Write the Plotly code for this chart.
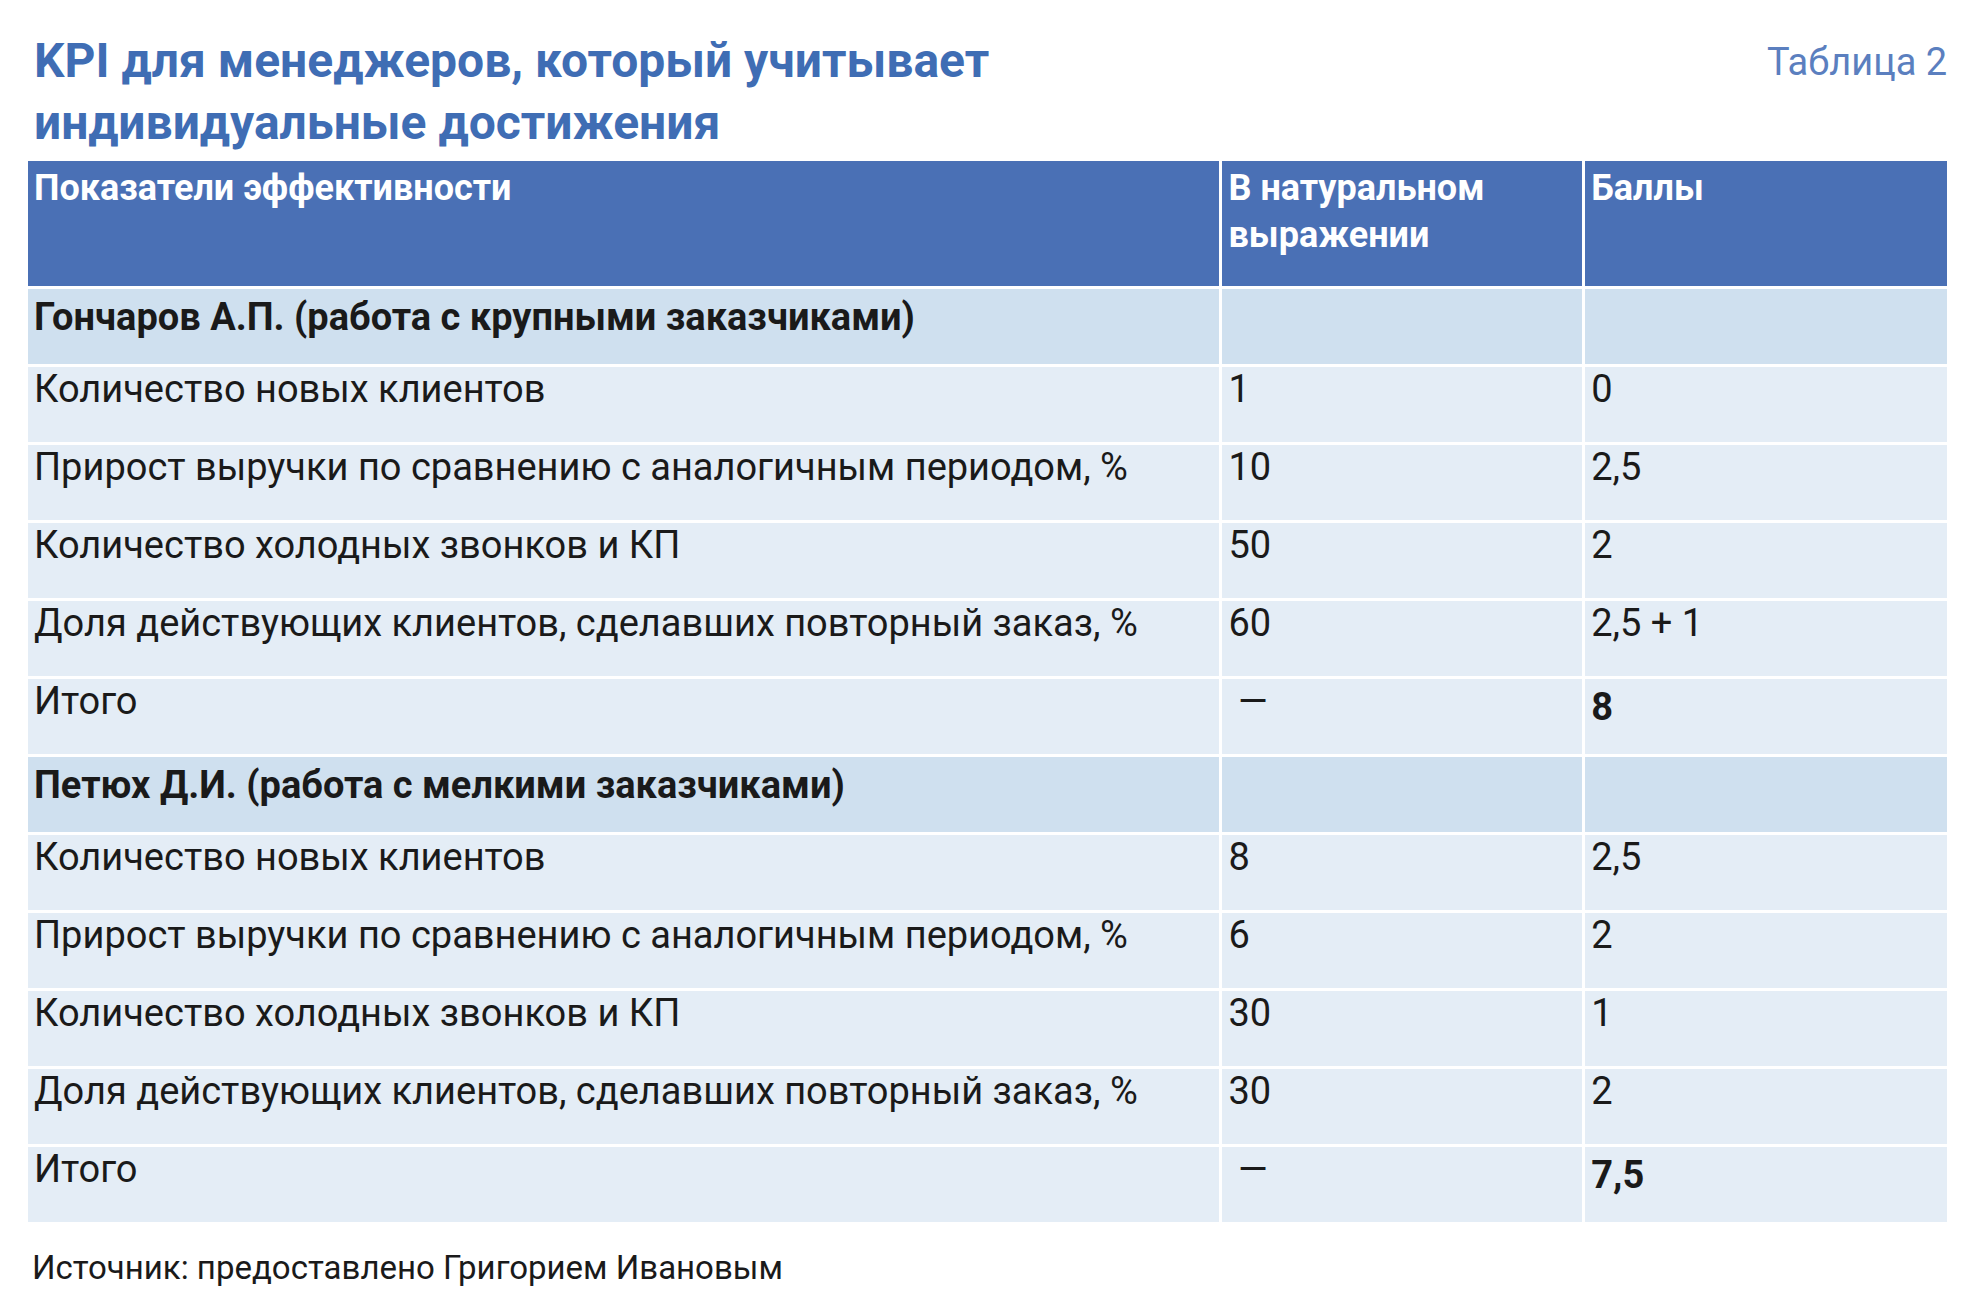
import plotly.graph_objects as go

title = "KPI для менеджеров, который учитывает<br>индивидуальные достижения"
label = "Таблица 2"
source = "Источник: предоставлено Григорием Ивановым"
headers = ["Показатели эффективности", "В натуральном<br>выражении", "Баллы"]
col1 = ["Гончаров А.П. (работа с крупными заказчиками)",
        "Количество новых клиентов",
        "Прирост выручки по сравнению с аналогичным периодом, %",
        "Количество холодных звонков и КП",
        "Доля действующих клиентов, сделавших повторный заказ, %",
        "Итого",
        "Петюх Д.И. (работа с мелкими заказчиками)",
        "Количество новых клиентов",
        "Прирост выручки по сравнению с аналогичным периодом, %",
        "Количество холодных звонков и КП",
        "Доля действующих клиентов, сделавших повторный заказ, %",
        "Итого"]
col2 = ["", "1", "10", "50", "60", " —", "", "8", "6", "30", "30", " —"]
col3 = ["", "0", "2,5", "2", "2,5 + 1", "<b>8</b>", "", "2,5", "2", "1", "2", "<b>7,5</b>"]
group_rows = [0, 6]

c1 = [f"<b>{t}</b>" if i in group_rows else t for i, t in enumerate(col1)]
fills = ["#cfe0ef" if i in group_rows else "#e4edf6" for i in range(len(col1))]

fig = go.Figure(go.Table(
    domain=dict(x=[18/1972, 1941/1972], y=[0.0, 1-151/1303]),
    columnwidth=[1192, 362, 365],
    header=dict(values=[f"<b>{h}</b>" for h in headers], height=128,
                fill_color="#4a70b5", line=dict(color="white", width=3),
                align="left", font=dict(family="Roboto", size=36, color="white")),
    cells=dict(values=[c1, col2, col3], height=78,
               fill_color=[fills, fills, fills], line=dict(color="white", width=3),
               align="left", font=dict(family="Roboto", size=38, color="#1a1a1a")),
))
fig.update_layout(
    width=1972, height=1303, margin=dict(l=0, r=0, t=0, b=0),
    paper_bgcolor="white",
    annotations=[
        dict(text=f"<b>{title}</b>", x=24/1972, y=1-22/1303, xref="paper", yref="paper",
             xanchor="left", yanchor="top", align="left", showarrow=False,
             font=dict(family="Roboto", size=48, color="#3f6db4")),
        dict(text=label, x=1941/1972, y=1-30/1303, xref="paper", yref="paper",
             xanchor="right", yanchor="top", showarrow=False,
             font=dict(family="Roboto", size=38, color="#5b7fbf")),
        dict(text=source, x=22/1972, y=1-1259/1303, xref="paper", yref="paper",
             xanchor="left", yanchor="middle", showarrow=False,
             font=dict(family="Roboto", size=33, color="#1a1a1a")),
    ],
)
fig.write_html("out.html")
